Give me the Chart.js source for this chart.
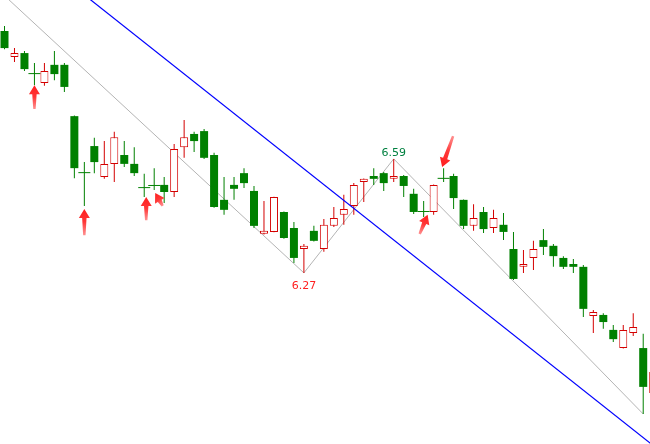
<!DOCTYPE html>
<html lang="en">
<head>
    <meta charset="UTF-8">
    <title>K-line</title>
    <script src="https://cdn.jsdelivr.net/npm/chart.js"></script>
    <style>
        body {
            margin: 0;
            padding: 0;
            background-color: white;
        }
        .chart-container {
            width: 650px;
            height: 444px;
        }
    </style>
</head>
<body>
    <div class="chart-container">
        <canvas id="klineChart" width="650" height="444"></canvas>
    </div>

    <script>
        // Daily candles, left to right (prices)
        const opens = [6.949, 6.876, 6.887, 6.828, 6.803, 6.854, 6.854, 6.710, 6.550, 6.626,
            6.539, 6.576, 6.601, 6.576, 6.508, 6.514, 6.517, 6.497, 6.623, 6.660,
            6.668, 6.601, 6.475, 6.517, 6.550, 6.500, 6.380, 6.385, 6.441, 6.396,
            6.337, 6.388, 6.337, 6.402, 6.433, 6.458, 6.525, 6.542, 6.550, 6.534,
            6.542, 6.492, 6.441, 6.441, 6.534, 6.542, 6.475, 6.402, 6.441, 6.396,
            6.405, 6.337, 6.287, 6.312, 6.362, 6.346, 6.312, 6.295, 6.287, 6.149,
            6.152, 6.110, 6.059, 6.101, 6.059, 5.933];
        const highs = [6.963, 6.901, 6.893, 6.859, 6.859, 6.893, 6.859, 6.712, 6.581, 6.649,
            6.640, 6.666, 6.640, 6.623, 6.548, 6.564, 6.539, 6.632, 6.699, 6.666,
            6.674, 6.607, 6.539, 6.539, 6.564, 6.514, 6.472, 6.484, 6.442, 6.413,
            6.351, 6.402, 6.421, 6.455, 6.489, 6.522, 6.535, 6.564, 6.553, 6.590,
            6.545, 6.506, 6.472, 6.518, 6.564, 6.548, 6.476, 6.463, 6.455, 6.447,
            6.438, 6.385, 6.334, 6.360, 6.393, 6.351, 6.317, 6.309, 6.292, 6.166,
            6.157, 6.124, 6.124, 6.157, 6.099, 6.000];
        const lows = [6.898, 6.862, 6.837, 6.797, 6.795, 6.811, 6.778, 6.536, 6.458, 6.550,
            6.534, 6.525, 6.567, 6.542, 6.483, 6.503, 6.466, 6.483, 6.593, 6.609,
            6.590, 6.453, 6.433, 6.475, 6.508, 6.396, 6.378, 6.384, 6.366, 6.298,
            6.270, 6.358, 6.329, 6.399, 6.405, 6.433, 6.469, 6.517, 6.500, 6.525,
            6.483, 6.435, 6.427, 6.433, 6.525, 6.449, 6.393, 6.388, 6.382, 6.382,
            6.362, 6.250, 6.270, 6.278, 6.320, 6.287, 6.281, 6.270, 6.146, 6.101,
            6.113, 6.076, 6.058, 6.093, 5.874, 5.920];
        const closes = [6.901, 6.887, 6.842, 6.828, 6.837, 6.828, 6.792, 6.564, 6.550, 6.581,
            6.576, 6.651, 6.576, 6.550, 6.508, 6.514, 6.497, 6.618, 6.651, 6.640,
            6.593, 6.455, 6.447, 6.506, 6.522, 6.402, 6.388, 6.483, 6.368, 6.312,
            6.346, 6.360, 6.405, 6.424, 6.449, 6.517, 6.534, 6.534, 6.522, 6.542,
            6.514, 6.441, 6.441, 6.517, 6.534, 6.480, 6.402, 6.424, 6.393, 6.424,
            6.385, 6.253, 6.295, 6.337, 6.343, 6.317, 6.287, 6.287, 6.169, 6.160,
            6.132, 6.084, 6.110, 6.118, 5.950, 5.992];

        // Zigzag swing line (candle index, price)
        const zigzagIdx = [-1, 30, 39, 64];
        const zigzagPrice = [7.074, 6.27, 6.59, 5.874];

        // Blue trend line end points
        const trendIdx = [0, 66];
        const trendPrice = [7.228, 5.763];

        // Swing labels
        const swingText = ['6.59', '6.27'];
        const swingIdx = [39, 30];
        const swingPrice = [6.59, 6.27];

        // Red arrows: tip and tail (candle index, price)
        const arrowTipIdx = [3, 8, 14.2, 15.1, 42.4, 43.85];
        const arrowTipPrice = [6.797, 6.449, 6.483, 6.494, 6.433, 6.567];
        const arrowTailIdx = [3, 8, 14.2, 15.85, 41.6, 44.95];
        const arrowTailPrice = [6.730, 6.376, 6.418, 6.458, 6.379, 6.654];

        const GREEN = '#008000';
        const RED = '#d40000';

        const wicks = [];
        const bodies = [];
        const dojis = [];
        const wickColors = [];
        const bodyFill = [];
        const bodyBorder = [];
        const bodyBorderWidth = [];
        opens.forEach((o, i) => {
            const c = closes[i];
            const up = c > o;
            wicks.push({ x: i, y: [lows[i], highs[i]] });
            wickColors.push(up ? RED : GREEN);
            if (c === o) {
                bodies.push({ x: i, y: null });
                dojis.push({ x: i, y: [o, c] });
            } else {
                bodies.push({ x: i, y: [o, c] });
                dojis.push({ x: i, y: null });
            }
            bodyFill.push(up ? '#ffffff' : GREEN);
            bodyBorder.push(up ? RED : GREEN);
            bodyBorderWidth.push(up ? 1 : 0);
        });

        // Labels and arrows drawn on the chart scales
        const markPlugin = {
            id: 'marks',
            afterDatasetsDraw(chart) {
                const ctx = chart.ctx;
                const xs = chart.scales.x;
                const ys = chart.scales.y;
                ctx.save();

                // arrows
                for (let i = 0; i < arrowTipIdx.length; i++) {
                    const tx = xs.getPixelForValue(arrowTipIdx[i]);
                    const ty = ys.getPixelForValue(arrowTipPrice[i]);
                    const bx = xs.getPixelForValue(arrowTailIdx[i]);
                    const by = ys.getPixelForValue(arrowTailPrice[i]);
                    const len = Math.hypot(tx - bx, ty - by);
                    const ux = (tx - bx) / len, uy = (ty - by) / len;
                    const nx = -uy, ny = ux;
                    const headLen = 9, headW = 5.5;
                    const hx = tx - ux * headLen, hy = ty - uy * headLen;
                    const grad = ctx.createLinearGradient(tx, ty, bx, by);
                    grad.addColorStop(0, 'rgba(255,30,30,1)');
                    grad.addColorStop(0.5, 'rgba(255,45,45,0.95)');
                    grad.addColorStop(1, 'rgba(255,70,70,0.6)');
                    ctx.fillStyle = grad;
                    ctx.beginPath();
                    ctx.moveTo(tx, ty);
                    ctx.lineTo(hx + nx * headW, hy + ny * headW);
                    ctx.lineTo(hx + nx * 2.2, hy + ny * 2.2);
                    ctx.lineTo(bx + nx * 1.2, by + ny * 1.2);
                    ctx.lineTo(bx - nx * 1.2, by - ny * 1.2);
                    ctx.lineTo(hx - nx * 2.2, hy - ny * 2.2);
                    ctx.lineTo(hx - nx * headW, hy - ny * headW);
                    ctx.closePath();
                    ctx.fill();
                }

                // swing labels
                ctx.font = '11px "DejaVu Sans"';
                ctx.textAlign = 'center';
                ctx.textBaseline = 'alphabetic';
                for (let i = 0; i < swingText.length; i++) {
                    const px = xs.getPixelForValue(swingIdx[i]);
                    const py = ys.getPixelForValue(swingPrice[i]);
                    const isHigh = i === 0;
                    ctx.fillStyle = isHigh ? '#008040' : '#ff2020';
                    ctx.fillText(swingText[i], px, isHigh ? py - 3 : py + 16);
                }
                ctx.restore();
            }
        };

        const ctx = document.getElementById('klineChart').getContext('2d');
        const chart = new Chart(ctx, {
            type: 'bar',
            data: {
                datasets: [
                    {
                        type: 'line',
                        data: zigzagIdx.map((v, i) => ({ x: v, y: zigzagPrice[i] })),
                        borderColor: '#b4b4b4',
                        borderWidth: 1,
                        pointRadius: 0,
                        tension: 0,
                        order: 3
                    },
                    {
                        type: 'line',
                        data: trendIdx.map((v, i) => ({ x: v, y: trendPrice[i] })),
                        borderColor: '#0000ff',
                        borderWidth: 1.2,
                        pointRadius: 0,
                        tension: 0,
                        order: 0
                    },
                    {
                        data: wicks,
                        backgroundColor: wickColors,
                        borderWidth: 0,
                        barThickness: 1,
                        grouped: false,
                        inflateAmount: 0,
                        order: 2
                    },
                    {
                        data: bodies,
                        backgroundColor: bodyFill,
                        borderColor: bodyBorder,
                        borderWidth: bodyBorderWidth,
                        borderSkipped: false,
                        barThickness: 8,
                        grouped: false,
                        inflateAmount: 0,
                        order: 1
                    },
                    {
                        data: dojis,
                        backgroundColor: GREEN,
                        borderWidth: 0,
                        barThickness: 12,
                        minBarLength: 1,
                        grouped: false,
                        inflateAmount: 0,
                        order: 1
                    }
                ]
            },
            options: {
                responsive: false,
                animation: false,
                layout: { padding: 0 },
                plugins: {
                    legend: { display: false },
                    tooltip: { enabled: false }
                },
                scales: {
                    x: {
                        type: 'linear',
                        min: -0.451,
                        max: 64.68,
                        offset: false,
                        display: false
                    },
                    y: {
                        type: 'linear',
                        min: 5.7897,
                        max: 7.036,
                        display: false
                    }
                }
            },
            plugins: [markPlugin]
        });
    </script>
</body>
</html>
